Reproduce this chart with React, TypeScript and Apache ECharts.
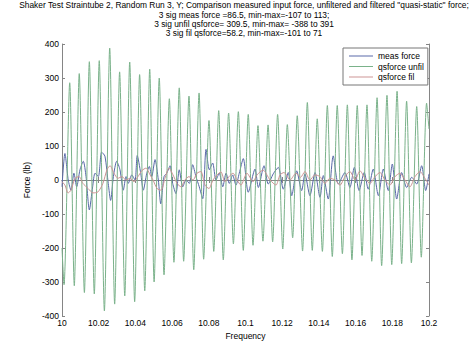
import React, { useEffect, useRef } from "react";
import * as echarts from "echarts";

const TITLE_LINES = [
  'Shaker Test Straintube 2, Random Run 3, Y; Comparison measured input force, unfiltered and filtered "quasi-static" force;',
  "3 sig meas force =86.5, min-max=-107 to 113;",
  "3 sig unfil qsforce= 309.5, min-max= -388 to 391",
  "3 sig fil qsforce=58.2, min-max=-101 to 71",
];

const SERIES_NAMES = ["meas force", "qsforce unfil", "qsforce fil"];

// qsforce unfil: turning points
const unfilFreq = [
  10.0, 10.0011, 10.0042, 10.0067, 10.0094, 10.0122, 10.0149, 10.0176, 10.0203, 10.0231,
  10.026, 10.0287, 10.0314, 10.0342, 10.0369, 10.0396, 10.0423, 10.0451, 10.0478, 10.0502,
  10.053, 10.0556, 10.0585, 10.061, 10.0639, 10.0663, 10.0692, 10.0718, 10.0747, 10.0772,
  10.0801, 10.0827, 10.0854, 10.0879, 10.0908, 10.0934, 10.0961, 10.0988, 10.1015, 10.1041,
  10.1068, 10.1095, 10.1123, 10.1148, 10.1175, 10.1203, 10.1228, 10.1257, 10.1282, 10.1311,
  10.1337, 10.1364, 10.1391, 10.1419, 10.1446, 10.1473, 10.15, 10.1528, 10.1555, 10.158,
  10.1609, 10.1635, 10.1662, 10.1688, 10.1717, 10.1742, 10.1771, 10.1797, 10.1826, 10.1851,
  10.1878, 10.1904, 10.1933, 10.1958, 10.1987, 10.2,
];
const unfilVal = [
  -200, -308, 286, -311, 313, -331, 348, -335, 351, -385,
  388, -365, 318, -341, 347, -358, 310, -326, 326, -300,
  300, -279, 239, -242, 271, -239, 247, -264, 256, -233,
  175, -210, 204, -235, 197, -188, 201, -207, 193, -192,
  160, -180, 162, -182, 193, -203, 163, -170, 189, -209,
  228, -207, 180, -210, 219, -225, 219, -217, 221, -235,
  219, -222, 221, -239, 242, -252, 249, -249, 261, -246,
  232, -244, 216, -227, 226, 150,
];

// meas force
const measFreq = [
  10.0, 10.0016, 10.0034, 10.0049, 10.0065, 10.008, 10.0098, 10.0116, 10.0131, 10.0149,
  10.0167, 10.018, 10.0198, 10.0216, 10.0234, 10.0252, 10.0265, 10.028, 10.0298, 10.0316,
  10.0334, 10.0349, 10.0361, 10.038, 10.0398, 10.041, 10.0429, 10.0443, 10.0462, 10.0476,
  10.0489, 10.0507, 10.0525, 10.0538, 10.0556, 10.0571, 10.0589, 10.0603, 10.0621, 10.0639,
  10.0658, 10.0676, 10.0694, 10.0712, 10.073, 10.0748, 10.0767, 10.0785, 10.0803, 10.0821,
  10.0839, 10.0857, 10.0876, 10.0894, 10.0912, 10.093, 10.0948, 10.0966, 10.0988, 10.1015,
  10.1052, 10.107, 10.1101, 10.1124, 10.1151, 10.1179, 10.1206, 10.1233, 10.1252, 10.1279,
  10.1306, 10.1324, 10.1351, 10.1379, 10.1406, 10.1424, 10.1451, 10.1478, 10.1506, 10.1542,
  10.1569, 10.1593, 10.1619, 10.1647, 10.1669, 10.1696, 10.1724, 10.1751, 10.1778, 10.18,
  10.1824, 10.1851, 10.1878, 10.1906, 10.1933, 10.196, 10.1982, 10.2,
];
const measVal = [
  -20, 78, 0, -30, 20, -20, 30, 55, 10, -88,
  -20, 20, 10, 82, 70, -10, -60, 10, 55, 30,
  -30, 10, -10, 15, 0, 72, 20, -30, 20, 40,
  10, 60, 0, -70, 10, 20, 42, -10, -40, 30,
  -20, 0, -10, 45, 10, -20, -55, 90, 30, 50,
  0, 20, -20, 20, -10, 15, -15, 20, 63, -36,
  32, -22, 42, -12, 18, 37, -27, 22, -46, 27,
  -31, 18, -46, 22, -51, 13, -56, 71, -12, 22,
  -22, 37, -31, 22, -27, 32, -46, 32, -31, 47,
  -56, 22, -22, 8, -12, 42, -31, 18,
];

// qsforce fil
const filFreq = [
  10.0, 10.0016, 10.0033, 10.0049, 10.0071, 10.0093, 10.0114, 10.0142, 10.0169, 10.0196,
  10.0223, 10.0245, 10.0262, 10.0283, 10.0305, 10.0327, 10.0349, 10.0371, 10.0392, 10.0414,
  10.0436, 10.0458, 10.048, 10.0496, 10.0518, 10.054, 10.0561, 10.0583, 10.0605, 10.0627,
  10.0649, 10.067, 10.0692, 10.0714, 10.0736, 10.0757, 10.0779, 10.0801, 10.0823, 10.0845,
  10.0866, 10.0888, 10.091, 10.0932, 10.0954, 10.0975, 10.1008, 10.1041, 10.1063, 10.1095,
  10.1134, 10.1166, 10.1188, 10.121, 10.1243, 10.1275, 10.13, 10.1324, 10.1351, 10.1379,
  10.1406, 10.1433, 10.146, 10.1488, 10.1515, 10.1542, 10.1569, 10.1597, 10.1624, 10.1651,
  10.1678, 10.1706, 10.1733, 10.176, 10.1787, 10.1815, 10.1842, 10.1869, 10.1896, 10.1924,
  10.1951, 10.1978, 10.2,
];
const filVal = [
  -5, -15, -38, -30, 5, 10, -10, -25, -38, -35,
  -10, 30, 42, 20, 5, 10, 0, 5, -5, 10,
  28, 35, 15, 0, -25, -30, 5, 35, 15, -10,
  -20, 0, 10, 0, 20, 25, -15, -25, 0, 15,
  24, -5, 10, 20, 0, -15, 20, -5, 15, 29,
  0, -15, 15, 22, 0, 20, 8, 25, 0, 15,
  10, -10, 5, 0, -15, 10, 25, 0, 27, 5,
  -10, 10, 22, 0, -15, 10, 20, 0, -20, 10,
  25, 5, -15,
];

const X_MIN = 10;
const X_MAX = 10.2;
const X_STEP = 0.02;
const Y_MIN = -400;
const Y_MAX = 400;
const Y_STEP = 100;

const COLORS = ["#5868a8", "#7ab28a", "#cc9494"];
const FONT = "'Liberation Sans', Arial, sans-serif";
const AXIS_COLOR = "#858585";

function pairs(xs: number[], ys: number[]) {
  return xs.map((x, i) => [x, ys[i]]);
}

export default function App() {
  const ref = useRef<HTMLDivElement>(null);

  useEffect(() => {
    if (!ref.current) return;
    const chart = echarts.init(ref.current, undefined, { renderer: "svg" });
    const fmtX = (v: number) => String(parseFloat(v.toFixed(2)));
    const commonX = {
      type: "value",
      min: X_MIN,
      max: X_MAX,
      interval: X_STEP,
      axisLine: { show: true, lineStyle: { color: AXIS_COLOR, width: 1 } },
      axisTick: { show: true, inside: true, length: 3, lineStyle: { color: AXIS_COLOR } },
      splitLine: { show: false },
    };
    const commonY = {
      type: "value",
      min: Y_MIN,
      max: Y_MAX,
      interval: Y_STEP,
      axisLine: { show: true, lineStyle: { color: AXIS_COLOR, width: 1 } },
      axisTick: { show: true, inside: true, length: 3, lineStyle: { color: AXIS_COLOR } },
      splitLine: { show: false },
    };
    const lineSeries = (name: string, data: number[][], color: string) => ({
      name,
      type: "line",
      data,
      showSymbol: false,
      symbol: "none",
      smooth: 0.25,
      lineStyle: { color, width: 1 },
      itemStyle: { color },
      xAxisIndex: 0,
      yAxisIndex: 0,
    });
    const titleY = [5, 15, 24.3, 33.3];
    chart.setOption({
      animation: false,
      backgroundColor: "#ffffff",
      textStyle: { fontFamily: FONT },
      graphic: TITLE_LINES.map((t, i) => ({
        type: "text",
        x: 244,
        y: titleY[i],
        silent: true,
        style: {
          text: t,
          align: "center",
          verticalAlign: "middle",
          fontFamily: FONT,
          fontSize: 8.4,
          fill: "#000",
        },
      })),
      legend: {
        data: SERIES_NAMES,
        orient: "vertical",
        left: 343,
        top: 48,
        padding: [3, 4, 3, 6],
        itemGap: 0.5,
        itemWidth: 24,
        itemHeight: 1,
        icon: "rect",
        backgroundColor: "#ffffff",
        borderColor: "#777",
        borderWidth: 1,
        borderRadius: 0,
        textStyle: { fontFamily: FONT, fontSize: 8.5, color: "#000", lineHeight: 10 },
      },
      grid: { left: 62, right: 45, top: 44, bottom: 39, containLabel: false },
      xAxis: [
        {
          ...commonX,
          position: "bottom",
          name: "Frequency",
          nameLocation: "middle",
          nameGap: 11,
          nameTextStyle: { fontFamily: FONT, fontSize: 8.5, color: "#000" },
          axisLabel: {
            show: true,
            margin: 2,
            fontFamily: FONT,
            fontSize: 8.5,
            color: "#000",
            formatter: fmtX,
          },
        },
        { ...commonX, position: "top", axisLabel: { show: false } },
      ],
      yAxis: [
        {
          ...commonY,
          position: "left",
          name: "Force (lb)",
          nameLocation: "middle",
          nameGap: 24,
          nameTextStyle: { fontFamily: FONT, fontSize: 8.5, color: "#000" },
          axisLabel: { show: true, margin: 3, fontFamily: FONT, fontSize: 8.5, color: "#000" },
        },
        { ...commonY, position: "right", axisLabel: { show: false } },
      ],
      series: [
        lineSeries(SERIES_NAMES[0], pairs(measFreq, measVal), COLORS[0]),
        lineSeries(SERIES_NAMES[1], pairs(unfilFreq, unfilVal), COLORS[1]),
        lineSeries(SERIES_NAMES[2], pairs(filFreq, filVal), COLORS[2]),
      ],
    });
    return () => chart.dispose();
  }, []);

  return <div ref={ref} style={{ width: 474, height: 355, position: "absolute", left: 0, top: 0 }} />;
}
